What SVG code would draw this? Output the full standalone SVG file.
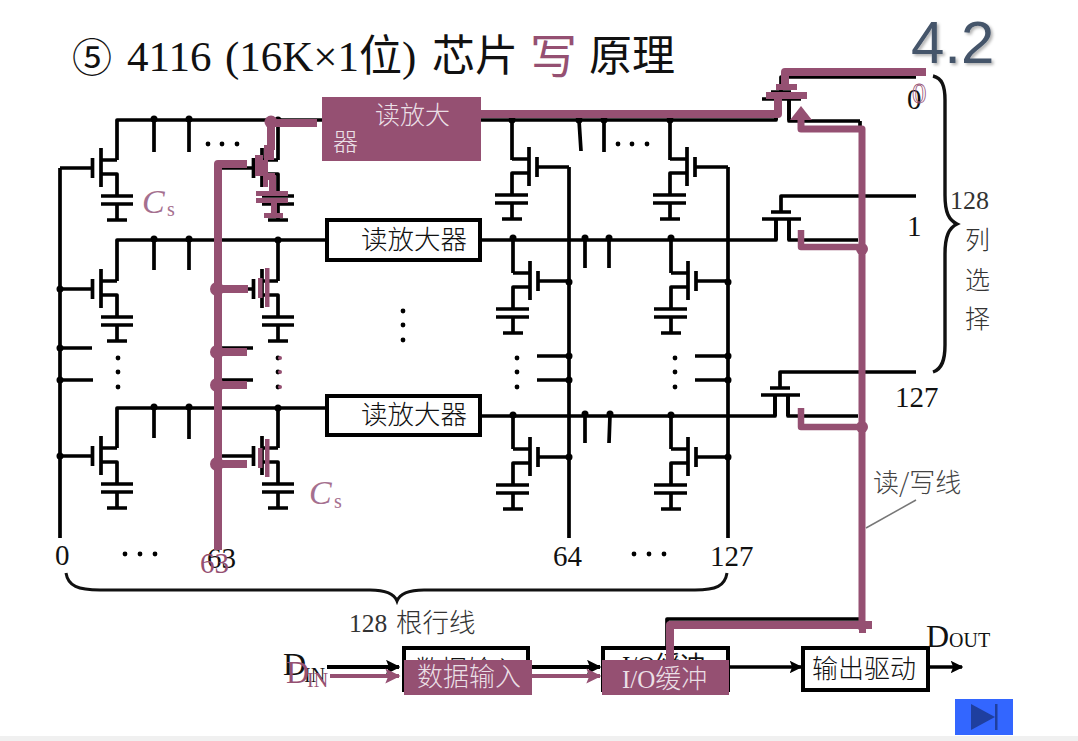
<svg xmlns="http://www.w3.org/2000/svg" width="1078" height="741" viewBox="0 0 1078 741">
<style>
.k{fill:none;stroke:#000;stroke-width:3.700;stroke-linejoin:round}
.p{fill:none;stroke:#955072;stroke-width:8;stroke-linejoin:round}
.pf{fill:#955072}
.kf{fill:#000}
.box{fill:#fff;stroke:#000;stroke-width:4}
.ser{font-family:"Liberation Serif","Noto Sans CJK SC",serif;fill:#111}
.cjk{font-family:"Noto Sans CJK SC","Liberation Sans",sans-serif;font-weight:300;fill:#111}
.lt{fill:#eadfe5}
.cs{font-family:"Liberation Serif",serif;fill:#a5708f}
</style>
<defs>
<g id="cellL" class="k">
<path d="M0 40H-16M-16 28V67M-24.500 38V58M-16 54H0V76M-16 76H16M-16 84H16M0 84V100M-10 100H10"/>
</g>
<g id="cellR" class="k">
<path d="M0 40H17M17 28V67M25 38V58M17 54H0V76M-17 76H16M-17 84H16M0 84V100M-10 100H10"/>
</g>
<g id="sel" class="k">
<path d="M-10 0H10M-19 7H20M-5 7V28M8 7V28"/>
</g>
<marker id="ak" viewBox="0 0 10 10" refX="9" refY="5" markerWidth="3.600" markerHeight="3.600" orient="auto"><path d="M0 0L10 5L0 10L2 5Z" fill="#000"/></marker>
<marker id="ap" viewBox="0 0 10 10" refX="9" refY="5" markerWidth="3.800" markerHeight="3.800" orient="auto"><path d="M0 0L10 5L0 10L2 5Z" fill="#955072"/></marker>
<filter id="sh" x="-10%" y="-10%" width="130%" height="130%"><feDropShadow dx="2" dy="2" stdDeviation="1.500" flood-color="#000" flood-opacity=".3"/></filter>
</defs>
<rect width="1078" height="741" fill="#fff"/>
<rect y="736" width="1078" height="5" fill="#f0f0f0"/>

<g id="title">
<text x="72" y="72" class="cjk" font-size="40" style="font-weight:400">⑤</text>
<text y="71" class="ser" font-size="43"><tspan x="127">4116</tspan> <tspan x="225">(16K×1位)</tspan> <tspan x="432">芯片</tspan></text>
<text x="530" y="73" class="cjk" font-size="47" style="fill:#955072;font-weight:400">写</text>
<text x="589" y="71" class="cjk" font-size="43" style="font-weight:400">原理</text>
<text x="911" y="63" font-family="Liberation Sans,sans-serif" font-size="60" fill="#44546a" filter="url(#sh)">4.2</text>
</g>

<g id="connectors">
<path class="k" d="M60 168V538M218 168V538M569 167V538M728 167V538"/>
<path class="k" d="M60 168H93M218 168H254M60 289H93M218 289H254M60 456H93M218 456H254M60 348H92M60 380H93M218 348H253M218 380H253"/>
<path class="k" d="M537 167H569M695 167H728M539 281H569M697 281H728M539 457H569M697 457H728M537 356H569M537 380H569M695 356H728M695 380H728"/>
<path class="k" d="M117 160V120H322M481 120H776V100M117 281V240H327M481 240H776V219M117 448V408H327M481 416H775V395"/>
<path class="k" d="M278 120V160M278 240V281M278 408V448M512 120V160M670 120V160M513 239V273M671 239V273M513 415V449M671 415V449"/>
<path class="k" d="M154 120V152M189 120V152M154 240V270M189 240V270M154 408V438M189 408V439"/>
<path class="k" d="M579 120L581 151M604 120V152M585 239V268M609 239V268M585 415V443M610 415L609 443"/>
<path class="k" d="M789 99V121H860M789 219V240H858M788 395V416H858M781 91V77H916M781 212V196H916M780 388V372H916"/>
<path class="k" d="M860 121V130"/>
<path class="k" d="M667 650V619H862"/>
<g class="kf">
<circle cx="154" cy="119" r="3.500"/><circle cx="189" cy="119" r="3.500"/><circle cx="278" cy="120" r="3.500"/>
<circle cx="154" cy="239" r="3.500"/><circle cx="189" cy="239" r="3.500"/><circle cx="278" cy="240" r="3.500"/>
<circle cx="154" cy="407" r="3.500"/><circle cx="189" cy="407" r="3.500"/><circle cx="278" cy="408" r="3.500"/>
<circle cx="60" cy="289" r="3.500"/><circle cx="60" cy="348" r="3.500"/><circle cx="60" cy="380" r="3.500"/><circle cx="60" cy="456" r="3.500"/>
<circle cx="512" cy="120" r="3.500"/><circle cx="579" cy="120" r="3.500"/><circle cx="604" cy="120" r="3.500"/><circle cx="670" cy="120" r="3.500"/>
<circle cx="513" cy="238" r="3.500"/><circle cx="585" cy="238" r="3.500"/><circle cx="609" cy="238" r="3.500"/><circle cx="671" cy="238" r="3.500"/>
<circle cx="513" cy="415" r="3.500"/><circle cx="585" cy="414" r="3.500"/><circle cx="610" cy="414" r="3.500"/><circle cx="671" cy="415" r="3.500"/>
<circle cx="569" cy="282" r="3.500"/><circle cx="728" cy="282" r="3.500"/><circle cx="569" cy="356" r="3.500"/><circle cx="569" cy="380" r="3.500"/><circle cx="728" cy="356" r="3.500"/><circle cx="728" cy="380" r="3.500"/><circle cx="569" cy="457" r="3.500"/><circle cx="728" cy="457" r="3.500"/>
</g>
<g class="kf">
<circle cx="208" cy="144" r="2.400"/><circle cx="222" cy="144" r="2.400"/><circle cx="237" cy="144" r="2.400"/>
<circle cx="618" cy="144" r="2.400"/><circle cx="632" cy="144" r="2.400"/><circle cx="647" cy="144" r="2.400"/>
<circle cx="118" cy="358" r="2.400"/><circle cx="118" cy="372" r="2.400"/><circle cx="118" cy="387" r="2.400"/>
<circle cx="278" cy="358" r="2.400"/><circle cx="278" cy="372" r="2.400"/><circle cx="278" cy="387" r="2.400"/>
<circle cx="517" cy="358" r="2.400"/><circle cx="517" cy="372" r="2.400"/><circle cx="517" cy="387" r="2.400"/>
<circle cx="675" cy="358" r="2.400"/><circle cx="675" cy="372" r="2.400"/><circle cx="675" cy="387" r="2.400"/>
<circle cx="403" cy="311" r="2.400"/><circle cx="403" cy="325" r="2.400"/><circle cx="403" cy="340" r="2.400"/>
<circle cx="125" cy="554" r="2.400"/><circle cx="140" cy="554" r="2.400"/><circle cx="155" cy="554" r="2.400"/>
<circle cx="634" cy="554" r="2.400"/><circle cx="649" cy="554" r="2.400"/><circle cx="664" cy="554" r="2.400"/>
</g>
<path d="M66 573C68 586 78 590 100 590H370C385 590 394 593 397 601C400 593 409 590 424 590H695C716 590 725 586 727 573" fill="none" stroke="#111" stroke-width="3"/>
<path d="M933 76C942 78 945 86 945 100V195C945 213 949 220 957 224C949 228 945 236 945 254V345C945 360 942 369 933 372" fill="none" stroke="#111" stroke-width="3.400"/>
<path d="M916 500L866 528" stroke="#777" stroke-width="1.500" fill="none"/>
<path class="k" d="M327 667H399" style="stroke-width:4" marker-end="url(#ak)"/>
<path class="k" d="M532 667H600" style="stroke-width:4" marker-end="url(#ak)"/>
<path class="k" d="M729 667H801" style="stroke-width:3.500" marker-end="url(#ak)"/>
<path class="k" d="M929 667H962" style="stroke-width:3.500" marker-end="url(#ak)"/>
</g>

<g id="cell-0-0"><use href="#cellL" x="117" y="120"/></g>
<g id="cell-63-0"><use href="#cellL" x="278" y="120"/></g>
<g id="cell-64-0"><use href="#cellR" x="512" y="119"/></g>
<g id="cell-127-0"><use href="#cellR" x="670" y="119"/></g>
<g id="cell-0-1"><use href="#cellL" x="117" y="241"/></g>
<g id="cell-63-1"><use href="#cellL" x="278" y="241"/></g>
<g id="cell-64-1"><use href="#cellR" x="513" y="233"/></g>
<g id="cell-127-1"><use href="#cellR" x="671" y="233"/></g>
<g id="cell-0-2"><use href="#cellL" x="117" y="408"/></g>
<g id="cell-63-2"><use href="#cellL" x="278" y="408"/></g>
<g id="cell-64-2"><use href="#cellR" x="513" y="409"/></g>
<g id="cell-127-2"><use href="#cellR" x="671" y="409"/></g>
<g id="sel-0"><use href="#sel" x="781" y="92"/></g>
<g id="sel-1"><use href="#sel" x="781" y="212"/></g>
<g id="sel-2"><use href="#sel" x="780" y="388"/></g>

<g id="amp-1"><rect class="box" x="327" y="220" width="153" height="40"/><text x="361" y="249" class="cjk" font-size="26.500">读放大器</text></g>
<g id="amp-2"><rect class="box" x="327" y="396" width="153" height="39"/><text x="361" y="424" class="cjk" font-size="26.500">读放大器</text></g>
<g id="out-drv"><rect class="box" x="803" y="648" width="125" height="42"/><text x="812" y="678" class="cjk" font-size="26">输出驱动</text></g>
<g id="din-base"><rect class="box" x="404" y="648" width="124" height="42"/><text x="415" y="679" class="cjk" font-size="26">数据输入</text></g>
<g id="io-base"><rect class="box" x="603" y="648" width="125" height="42"/><text x="622" y="674" class="ser" font-size="25">I/O缓冲</text></g>

<g id="labels">
<text x="55" y="565" class="ser" font-size="29">0</text>
<text x="207" y="568" class="ser" font-size="29">63</text>
<text x="553" y="566" class="ser" font-size="29">64</text>
<text x="710" y="566" class="ser" font-size="29">127</text>
<text x="907" y="109" class="ser" font-size="29">0</text>
<text x="907" y="236" class="ser" font-size="29">1</text>
<text x="895" y="407" class="ser" font-size="29">127</text>
<text x="950" y="209" class="ser" font-size="26" style="fill:#333">128</text>
<text x="965" y="249" class="cjk" font-size="25" style="fill:#333">列</text>
<text x="965" y="289" class="cjk" font-size="25" style="fill:#333">选</text>
<text x="965" y="328" class="cjk" font-size="25" style="fill:#333">择</text>
<text x="349" y="632" class="ser" font-size="25.500" style="fill:#333">128 <tspan class="cjk" x="396" font-size="26.500" style="fill:#333">根行线</tspan></text>
<text x="873" y="492" class="cjk" font-size="26" style="fill:#444">读/写线</text>
<text x="283" y="675" class="ser" font-size="32">D<tspan font-size="20" dy="7" dx="-2">IN</tspan></text>
<text x="926" y="647" class="ser" font-size="32">D<tspan font-size="20">OUT</tspan></text>
<text x="142" y="213" class="cs" font-size="34" font-style="italic">C</text>
<text x="167" y="216" class="cs" font-size="20">s</text>
<text x="309" y="504" class="cs" font-size="34" font-style="italic">C</text>
<text x="334" y="508" class="cs" font-size="20">s</text>
</g>

<g id="write-overlay">
<rect class="pf" x="322" y="97" width="159" height="64"/>
<text x="375" y="124" class="cjk lt" font-size="25" style="fill:#eadfe5">读放大</text>
<text x="333" y="151" class="cjk lt" font-size="25" style="fill:#eadfe5">器</text>
<path class="p" d="M481 114H778V95M785 88V72H926"/>
<path class="p" d="M247 164H218V550"/>
<path class="p" d="M271 123H317M271 123V150"/>
<circle class="pf" cx="271" cy="122" r="6.500"/>
<path class="pf" d="M264 145H274V160H264ZM255 155H263V176H255ZM263 160H268V187H263ZM263 173H275V180H263ZM269 175H276V191H269ZM256 191H288V196H256ZM256 198H288V203H256ZM271 203H277V213H271ZM264 213H283V218H264Z"/>
<path class="p" d="M218 289H248M218 352H247M218 385H247M218 464H247"/>
<g class="pf">
<circle cx="217" cy="289" r="7"/><circle cx="217" cy="352" r="7"/><circle cx="217" cy="385" r="7"/><circle cx="217" cy="464" r="7"/>
<rect x="258" y="278" width="4.500" height="20"/><rect x="265" y="268" width="4.500" height="39"/>
<rect x="258" y="448" width="4.500" height="20"/><rect x="265" y="439" width="4.500" height="38"/>
<rect x="776" y="84" width="21" height="6"/><rect x="766" y="92" width="41" height="7"/>
<circle cx="862" cy="249" r="6"/><circle cx="862" cy="427" r="6"/>
<rect x="859" y="621" width="7" height="12"/>
<circle cx="280" cy="358" r="2"/><circle cx="280" cy="372" r="2"/><circle cx="280" cy="387" r="2"/>
</g>
<path class="p" d="M862 630V129H801V118" style="stroke-width:7"/>
<path class="pf" d="M801 106L812 120H790Z"/>
<path class="p" d="M801 230V247H862M801 408V427H862" style="stroke-width:6.500"/>
<path class="p" d="M872 625H670V660"/>
<rect class="pf" x="404" y="660" width="128" height="35"/>
<text x="417" y="686" class="cjk lt" font-size="26" style="fill:#eadfe5">数据输入</text>
<rect class="pf" x="602" y="660" width="127" height="35"/>
<text x="622" y="688" class="ser" font-size="25" style="fill:#eadfe5">I/O<tspan class="cjk" font-size="26" style="fill:#eadfe5">缓冲</tspan></text>
<path d="M330 676H399" stroke="#955072" stroke-width="4" marker-end="url(#ap)"/>
<path d="M532 676H600" stroke="#955072" stroke-width="4" marker-end="url(#ap)"/>
<text x="286" y="683" class="ser" font-size="32" style="fill:#955072">D<tspan font-size="20" dy="4" dx="-2" style="fill:#955072">IN</tspan></text>
<text x="200" y="573" class="ser" font-size="29" style="fill:#955072">63</text>
<text x="912" y="103" class="ser" font-size="29" style="fill:#fff;stroke:#955072;stroke-width:.8;fill-opacity:0">0</text>
</g>

<g id="next-button">
<rect x="955" y="699" width="58" height="36" fill="#3366ff"/>
<path d="M971 704L995 717L971 730Z" fill="#1f3f9f"/>
<rect x="995" y="704" width="2.500" height="26" fill="#1f3f9f"/>
</g>
</svg>
